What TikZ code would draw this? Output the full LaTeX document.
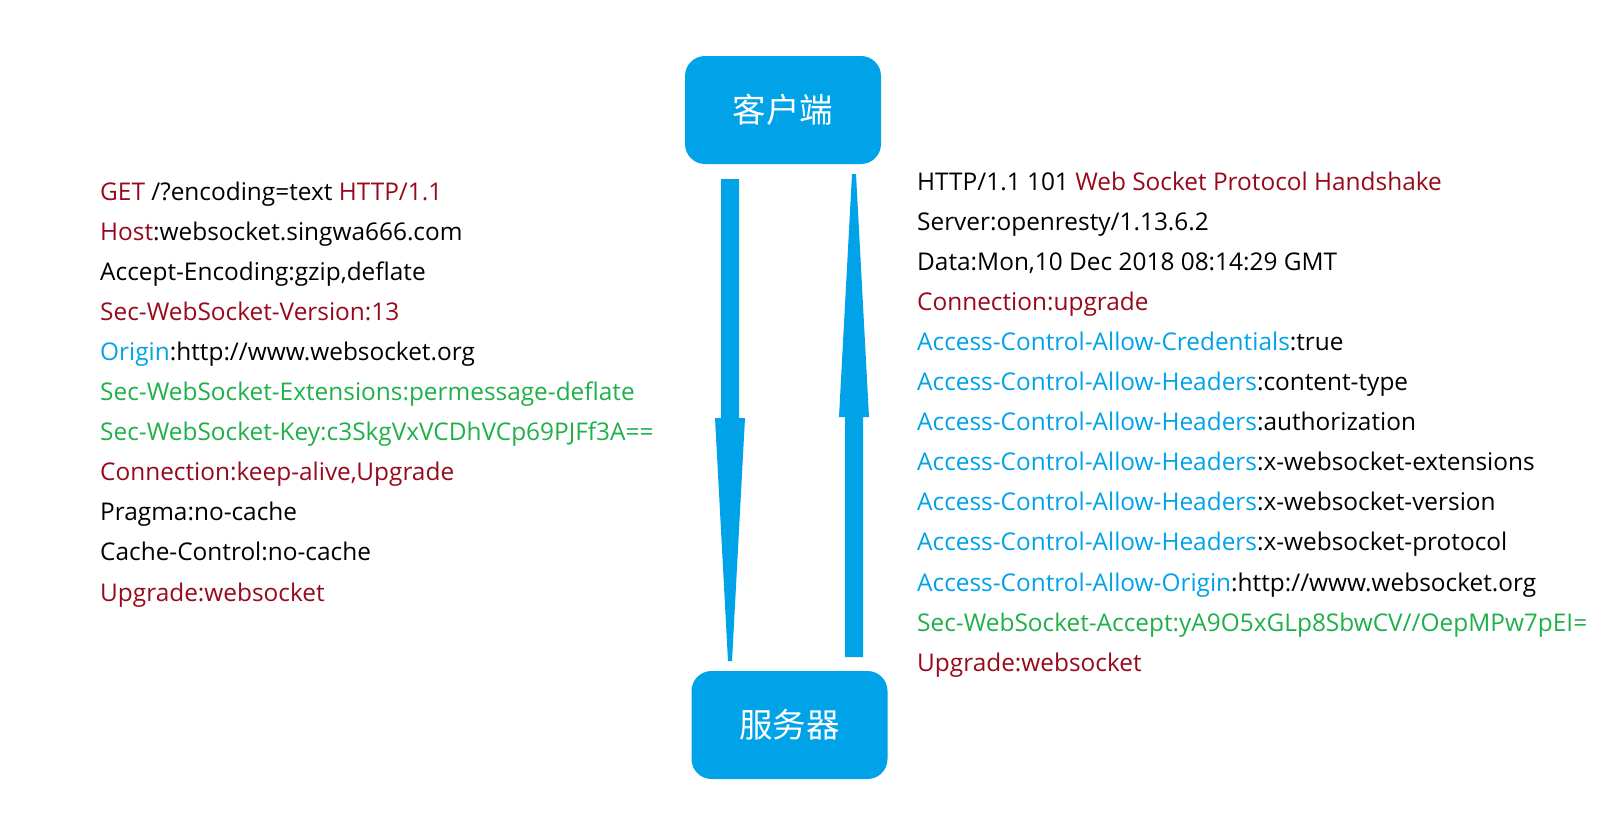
\documentclass[tikz,border=0pt]{standalone}
\usepackage{fontspec}
\usetikzlibrary{calc}
\setmainfont{Open Sans}
\newfontfamily\cjk{Noto Sans CJK SC}
\definecolor{hred}{HTML}{960A1C}
\definecolor{hblue}{HTML}{00A2E8}
\definecolor{hgreen}{HTML}{1FB04A}
\definecolor{boxblue}{HTML}{00A3E8}
\newcommand\cred[1]{\textcolor{hred}{#1}}
\newcommand\cblue[1]{\textcolor{hblue}{#1}}
\newcommand\cgreen[1]{\textcolor{hgreen}{#1}}
\tikzset{
  txt/.style={anchor=base west, inner sep=0pt, font=\fontsize{24.4}{28}\selectfont},
  endbox/.style={fill=boxblue, rounded corners=20pt, minimum width=196pt, minimum height=108pt, inner sep=0pt, text=white, font=\cjk\fontsize{33.5}{38}\selectfont},
  arrowfill/.style={fill=boxblue, draw=none}
}
\begin{document}
\begin{tikzpicture}[x=1pt,y=-1pt]
\useasboundingbox (0,0) rectangle (1623,823);
\node[endbox] (client) at (783,110) {客户端};
\node[endbox] (server) at (789.5,725) {服务器};
% down arrow (request)
\coordinate (dtop) at (730,179);
\coordinate (dtip) at (730,661);
\fill[arrowfill] ($(dtop)+(-9,0)$) -- ($(dtop)+(9,0)$) -- (739,418) -- (745,418) -- ($(dtip)+(2,0)$) -- ($(dtip)+(-2,0)$) -- (715,418) -- (721,418) -- cycle;
% up arrow (response)
\coordinate (ubot) at (854,657);
\coordinate (utip) at (854,174);
\fill[arrowfill] ($(ubot)+(-9,0)$) -- ($(ubot)+(9,0)$) -- (863,417) -- (869,417) -- ($(utip)+(2,0)$) -- ($(utip)+(-2,0)$) -- (839,417) -- (845,417) -- cycle;
% left: request headers
\node[txt] (l1) at (100,200.0) {\cred{GET} /?encoding=text \cred{HTTP/1.1}};
\node[txt] (l2) at (100,240.1) {\cred{Host}:websocket.singwa666.com};
\node[txt] (l3) at (100,280.2) {Accept-Encoding:gzip,deflate};
\node[txt] (l4) at (100,320.3) {\cred{Sec-WebSocket-Version:13}};
\node[txt] (l5) at (100,360.4) {\cblue{Origin}:http://www.websocket.org};
\node[txt] (l6) at (100,400.5) {\cgreen{Sec-WebSocket-Extensions:permessage-deflate}};
\node[txt] (l7) at (100,440.6) {\cgreen{Sec-WebSocket-Key:c3SkgVxVCDhVCp69PJFf3A==}};
\node[txt] (l8) at (100,480.7) {\cred{Connection:keep-alive,Upgrade}};
\node[txt] (l9) at (100,520.8) {Pragma:no-cache};
\node[txt] (l10) at (100,560.9) {Cache-Control:no-cache};
\node[txt] (l11) at (100,601.0) {\cred{Upgrade:websocket}};
% right: response headers
\node[txt] (r1) at (917,190.0) {HTTP/1.1 101 \cred{Web Socket Protocol Handshake}};
\node[txt] (r2) at (917,230.1) {Server:openresty/1.13.6.2};
\node[txt] (r3) at (917,270.2) {Data:Mon,10 Dec 2018 08:14:29 GMT};
\node[txt] (r4) at (917,310.3) {\cred{Connection:upgrade}};
\node[txt] (r5) at (917,350.4) {\cblue{Access-Control-Allow-Credentials}:true};
\node[txt] (r6) at (917,390.5) {\cblue{Access-Control-Allow-Headers}:content-type};
\node[txt] (r7) at (917,430.6) {\cblue{Access-Control-Allow-Headers}:authorization};
\node[txt] (r8) at (917,470.7) {\cblue{Access-Control-Allow-Headers}:x-websocket-extensions};
\node[txt] (r9) at (917,510.8) {\cblue{Access-Control-Allow-Headers}:x-websocket-version};
\node[txt] (r10) at (917,550.9) {\cblue{Access-Control-Allow-Headers}:x-websocket-protocol};
\node[txt] (r11) at (917,591.0) {\cblue{Access-Control-Allow-Origin}:http://www.websocket.org};
\node[txt] (r12) at (917,631.1) {\cgreen{Sec-WebSocket-Accept:yA9O5xGLp8SbwCV//OepMPw7pEI=}};
\node[txt] (r13) at (917,671.2) {\cred{Upgrade:websocket}};
\end{tikzpicture}
\end{document}
